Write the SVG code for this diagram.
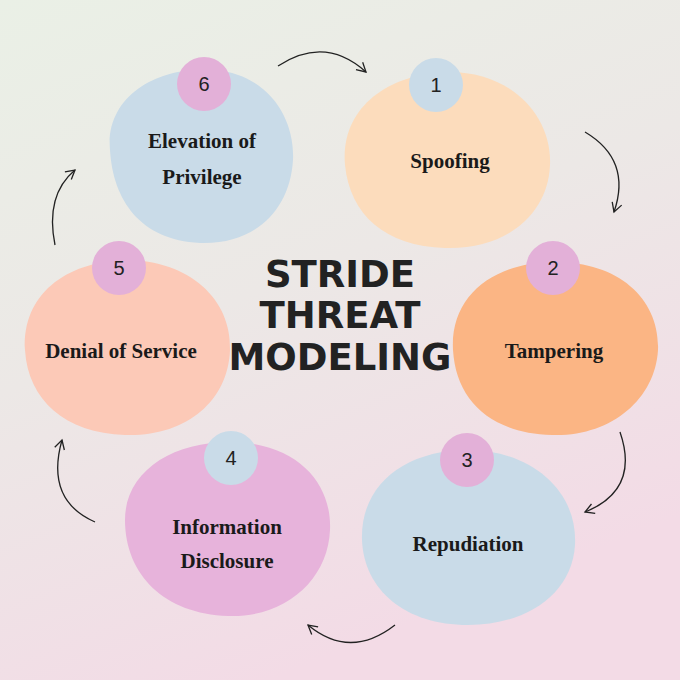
<svg xmlns="http://www.w3.org/2000/svg" width="680" height="680" viewBox="0 0 680 680">
<defs>
<linearGradient id="bg" x1="0" y1="0" x2="0.4" y2="1">
<stop offset="0" stop-color="#eaf0e6"/><stop offset="0.5" stop-color="#ece8e6"/><stop offset="1" stop-color="#f3dbe6"/>
</linearGradient>
<marker id="ah" viewBox="0 0 12 12" refX="10" refY="6" markerWidth="12" markerHeight="12" orient="auto" markerUnits="userSpaceOnUse">
<path d="M1,1 L10,6 L1,11" fill="none" stroke="#222" stroke-width="1.3"/>
</marker>
<style>
.lbl{font-family:"Liberation Serif",serif;font-weight:bold;font-size:21px;fill:#1a1a1a;text-anchor:middle}
.num{font-family:"Liberation Sans",sans-serif;font-size:20px;fill:#222;text-anchor:middle}
.t{font-family:"DejaVu Sans",sans-serif;font-weight:bold;font-size:37px;fill:#222;text-anchor:middle}
.c{fill:none;stroke:#222;stroke-width:1.3;marker-end:url(#ah)}
</style>
</defs>
<rect width="680" height="680" fill="url(#bg)"/>
<g id="connectors">
<path class="c" d="M278,66 Q325,35 366,72"/>
<path class="c" d="M585,132 Q632,160 614,212"/>
<path class="c" d="M620,432 Q640,490 585,512"/>
<path class="c" d="M395,625 Q350,660 308,625"/>
<path class="c" d="M95,522 Q45,500 62,440"/>
<path class="c" d="M55,245 Q45,195 75,170"/>
</g>
<g id="title">
<text class="t" x="340" y="287">STRIDE</text>
<text class="t" x="340" y="328">THREAT</text>
<text class="t" x="340" y="370">MODELING</text>
</g>
<g id="n6"><path d="M110,150 C105,95 160,65 215,70 C270,75 295,120 293,160 C290,210 255,245 200,243 C140,240 113,200 110,150Z" fill="#c9dbe8"/>
<circle cx="204" cy="84" r="27" fill="#e3b0d8"/><text class="num" x="204" y="91">6</text>
<text class="lbl" x="202" y="148">Elevation of</text><text class="lbl" x="202" y="184">Privilege</text></g>
<g id="n1"><path d="M345,165 C340,110 385,75 445,72 C510,70 552,115 550,165 C548,215 505,250 445,248 C385,246 350,215 345,165Z" fill="#fcdcbc"/>
<circle cx="436" cy="85" r="27" fill="#c9dbe8"/><text class="num" x="436" y="92">1</text>
<text class="lbl" x="450" y="168">Spoofing</text></g>
<g id="n2"><path d="M453,350 C450,295 495,262 555,262 C620,262 660,300 658,350 C655,400 610,437 552,435 C490,433 456,400 453,350Z" fill="#fbb584"/>
<circle cx="553" cy="268" r="27" fill="#e3b0d8"/><text class="num" x="553" y="275">2</text>
<text class="lbl" x="554" y="358">Tampering</text></g>
<g id="n3"><path d="M362,540 C360,485 405,450 468,450 C530,450 578,490 575,545 C572,595 525,625 468,625 C405,625 364,590 362,540Z" fill="#c9dbe8"/>
<circle cx="467" cy="460" r="27" fill="#e3b0d8"/><text class="num" x="467" y="467">3</text>
<text class="lbl" x="468" y="551">Repudiation</text></g>
<g id="n4"><path d="M125,520 C125,470 175,440 235,442 C300,445 332,485 330,530 C328,580 285,618 228,616 C165,614 125,575 125,520Z" fill="#e7b3db"/>
<circle cx="231" cy="458" r="27" fill="#c9dbe8"/><text class="num" x="231" y="465">4</text>
<text class="lbl" x="227" y="534">Information</text><text class="lbl" x="227" y="568">Disclosure</text></g>
<g id="n5"><path d="M25,350 C22,295 65,262 125,260 C190,260 232,300 230,350 C228,402 185,437 125,435 C65,433 28,400 25,350Z" fill="#fcc9b7"/>
<circle cx="119" cy="268" r="27" fill="#e3b0d8"/><text class="num" x="119" y="275">5</text>
<text class="lbl" x="121" y="358">Denial of Service</text></g>
</svg>
